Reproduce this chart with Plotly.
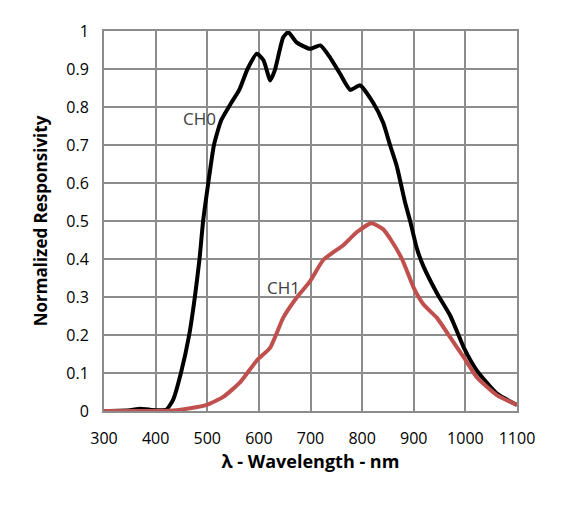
import plotly.graph_objects as go

# CH0 (black) spectral response
ch0_nm = [300, 350, 370, 390, 421, 434, 449, 465, 476, 485, 492, 502, 513,
          527, 546, 562, 578, 596, 609, 622, 631, 647, 657, 673, 699, 719, 738,
          757, 777, 796, 822, 841, 854, 867, 883, 893, 906, 919, 945, 971, 997,
          1022, 1061, 1100]
ch0_val = [0, 0.002, 0.006, 0.003, 0.004, 0.03, 0.1, 0.2, 0.3, 0.4, 0.5, 0.6,
           0.7, 0.765, 0.81, 0.845, 0.9, 0.94, 0.923, 0.87, 0.897, 0.983, 0.997,
           0.97, 0.953, 0.962, 0.93, 0.888, 0.845, 0.857, 0.81, 0.758, 0.70,
           0.645, 0.55, 0.50, 0.428, 0.38, 0.31, 0.25, 0.167, 0.107, 0.046, 0.016]

# CH1 (red)
ch1_nm = [300, 400, 440, 467, 499, 531, 564, 596, 622, 647, 673, 699, 725, 764,
          790, 818, 841, 856, 878, 900, 919, 945, 971, 997, 1022, 1061, 1100]
ch1_val = [0, 0, 0.002, 0.007, 0.016, 0.037, 0.076, 0.133, 0.167, 0.245, 0.298,
           0.341, 0.398, 0.437, 0.471, 0.494, 0.478, 0.45, 0.398, 0.324, 0.28,
           0.245, 0.193, 0.141, 0.089, 0.042, 0.016]

x_ticks = [300, 400, 500, 600, 700, 800, 900, 1000, 1100]
y_ticks = [0, 0.1, 0.2, 0.3, 0.4, 0.5, 0.6, 0.7, 0.8, 0.9, 1]
y_labels = ["0", "0.1", "0.2", "0.3", "0.4", "0.5", "0.6", "0.7", "0.8", "0.9", "1"]

fig = go.Figure()
fig.add_trace(go.Scatter(x=ch0_nm, y=ch0_val, mode="lines", name="CH0",
                         line=dict(color="black", width=4, shape="spline", smoothing=0.5)))
fig.add_trace(go.Scatter(x=ch1_nm, y=ch1_val, mode="lines", name="CH1",
                         line=dict(color="#c0504d", width=4, shape="spline", smoothing=0.5)))

fig.add_annotation(x=521, y=0.771, text="CH0", showarrow=False, xanchor="right",
                   font=dict(size=17, color="#404040"))
fig.add_annotation(x=683, y=0.324, text="CH1", showarrow=False, xanchor="right",
                   font=dict(size=17, color="#404040"))

fig.update_layout(
    width=563, height=510,
    margin=dict(l=96, r=54, t=19, b=107),
    paper_bgcolor="white", plot_bgcolor="white",
    showlegend=False,
    font=dict(family="Open Sans", size=16, color="black"),
    xaxis=dict(range=[300, 1100], tickvals=x_ticks, showgrid=True,
               gridcolor="#8c8c8c", gridwidth=2, zeroline=False,
               showline=True, linecolor="#8c8c8c", linewidth=2, mirror=True,
               ticks="", ticklen=0, ticklabelstandoff=12,
               title=dict(text="<b>λ - Wavelength - nm</b>", font=dict(size=18), standoff=6)),
    yaxis=dict(range=[0, 1], tickvals=y_ticks, ticktext=y_labels, showgrid=True,
               gridcolor="#8c8c8c", gridwidth=2, zeroline=False,
               showline=True, linecolor="#8c8c8c", linewidth=2, mirror=True,
               ticks="", ticklen=0, ticklabelstandoff=10,
               title=dict(text="<b>Normalized Responsivity</b>", font=dict(size=17), standoff=14)),
)

fig.write_html("out.html")
